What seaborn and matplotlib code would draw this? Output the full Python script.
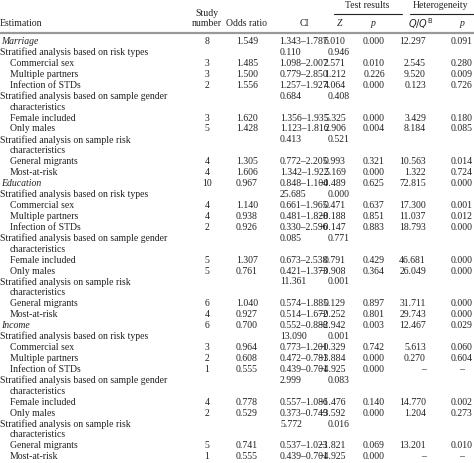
import matplotlib
matplotlib.use("Agg")
import matplotlib.pyplot as plt
import seaborn as sns

sns.set_theme(style="white")
plt.rcParams['font.family'] = ['Liberation Serif', 'DejaVu Serif']

# (label, kind) kind: h=italic heading, s=stratification line, c=continuation, i=indented item
labels = [
 ("Marriage","h"),("Stratified analysis based on risk types","s"),("Commercial sex","i"),("Multiple partners","i"),("Infection of STDs","i"),
 ("Stratified analysis based on sample gender","s"),("characteristics","c"),("Female included","i"),("Only males","i"),
 ("Stratified analysis on sample risk","s"),("characteristics","c"),("General migrants","i"),("Most-at-risk","i"),
 ("Education","h"),("Stratified analysis based on risk types","s"),("Commercial sex","i"),("Multiple partners","i"),("Infection of STDs","i"),
 ("Stratified analysis based on sample gender","s"),("characteristics","c"),("Female included","i"),("Only males","i"),
 ("Stratified analysis on sample risk","s"),("characteristics","c"),("General migrants","i"),("Most-at-risk","i"),
 ("Income","h"),("Stratified analysis based on risk types","s"),("Commercial sex","i"),("Multiple partners","i"),("Infection of STDs","i"),
 ("Stratified analysis based on sample gender","s"),("characteristics","c"),("Female included","i"),("Only males","i"),
 ("Stratified analysis on sample risk","s"),("characteristics","c"),("General migrants","i"),("Most-at-risk","i"),
]
study = ["8","","3","3","2","","","3","5","","","4","4",
         "10","","4","4","2","","","5","5","","","6","4",
         "6","","3","2","1","","","4","2","","","5","1"]
odds = ["1.549","","1.485","1.500","1.556","","","1.620","1.428","","","1.305","1.606",
        "0.967","","1.140","0.938","0.926","","","1.307","0.761","","","1.040","0.927",
        "0.700","","0.964","0.608","0.555","","","0.778","0.529","","","0.741","0.555"]
ci = ["1.343–1.787","0.110","1.098–2.007","0.779–2.850","1.257–1.927","0.684","","1.356–1.935","1.123–1.816","0.413","","0.772–2.205","1.342–1.922",
      "0.848–1.104","25.685","0.661–1.965","0.481–1.828","0.330–2.596","0.085","","0.673–2.538","0.421–1.373","11.361","","0.574–1.885","0.514–1.672",
      "0.552–0.888","13.090","0.773–1.201","0.472–0.781","0.439–0.701","2.999","","0.557–1.086","0.373–0.749","5.772","","0.537–1.023","0.439–0.701"]
zval = ["6.010","0.946","2.571","1.212","4.064","0.408","","5.325","2.906","0.521","","0.993","5.169",
        "−0.489","0.000","0.471","−0.188","−0.147","0.771","","0.791","−0.908","0.001","","0.129","−0.252",
        "−2.942","0.001","−0.329","−3.884","−4.925","0.083","","−1.476","−3.592","0.016","","−1.821","−4.925"]
pval = ["0.000","","0.010","0.226","0.000","","","0.000","0.004","","","0.321","0.000",
        "0.625","","0.637","0.851","0.883","","","0.429","0.364","","","0.897","0.801",
        "0.003","","0.742","0.000","0.000","","","0.140","0.000","","","0.069","0.000"]
qval = ["12.297","","2.545","9.520","0.123","","","3.429","8.184","","","10.563","1.322",
        "72.815","","17.300","11.037","18.793","","","46.681","26.049","","","31.711","29.743",
        "12.467","","5.613","0.270","–","","","14.770","1.204","","","13.201","–"]
qp = ["0.091","","0.280","0.009","0.726","","","0.180","0.085","","","0.014","0.724",
      "0.000","","0.001","0.012","0.000","","","0.000","0.000","","","0.000","0.000",
      "0.029","","0.060","0.604","–","","","0.002","0.273","","","0.010","–"]

W, H = 474, 463
fig = plt.figure(figsize=(W/100, H/100), dpi=100)
ax = fig.add_axes([0, 0, 1, 1])
ax.set_xlim(0, W); ax.set_ylim(H, 0); ax.axis("off")
fs = 7.0
col = "#222222"
kw = dict(fontsize=fs, color=col, va="center")

# header
ax.text(367, 5, "Test results", ha="center", **kw)
ax.text(413, 5, "Heterogeneity", ha="left", **kw)
ax.plot([334, 402], [14, 14], color=col, lw=0.8)
ax.plot([410, 474], [14, 14], color=col, lw=0.8)
ax.text(0, 24, "Estimation", ha="left", **kw)
ax.text(207, 13, "Study", ha="center", **kw)
ax.text(207, 24, "number", ha="center", **kw)
ax.text(247, 24, "Odds ratio", ha="center", **kw)
ax.text(304, 24, "CI", ha="center", **kw)
ax.text(340, 24, "Z", ha="center", style="italic", **kw)
ax.text(373, 24, "p", ha="center", style="italic", **kw)
ax.text(421, 24, "$Q/Q^{\\rm B}$", ha="center", style="italic", **kw)
ax.text(462, 24, "p", ha="center", style="italic", **kw)
ax.plot([0, W], [32.5, 32.5], color="#999999", lw=1.6)

y0, dy = 41.5, 10.93
for k, (lab, kind) in enumerate(labels):
    y = y0 + k*dy
    if kind == "h":
        ax.text(1, y, lab, ha="left", style="italic", **kw)
    elif kind == "s":
        ax.text(0, y, lab, ha="left", **kw)
    else:
        ax.text(10, y, lab, ha="left", **kw)
    ax.text(207, y, study[k], ha="center", **kw)
    ax.text(247, y, odds[k], ha="center", **kw)
    if kind == "s":
        ax.text(280, y, ci[k], ha="left", **kw)
        ax.text(328, y, zval[k], ha="left", **kw)
    else:
        ax.text(304, y, ci[k], ha="center", **kw)
        ax.text(346, y, zval[k], ha="right", **kw)
    ax.text(374, y, pval[k], ha="center", **kw)
    ax.text(426, y, qval[k], ha="right", **kw)
    ax.text(462, y, qp[k], ha="center", **kw)

fig.savefig("out.png", dpi=100, facecolor="white")
